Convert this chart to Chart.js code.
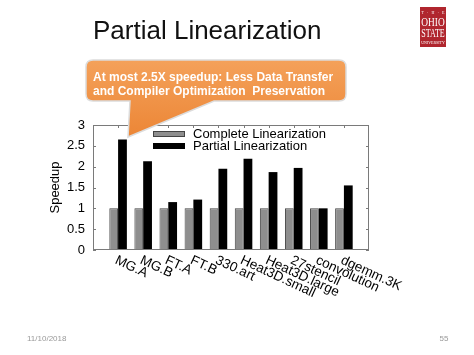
<!DOCTYPE html>
<html><head><meta charset="utf-8">
<script src="https://cdn.jsdelivr.net/npm/chart.js@4.4.1/dist/chart.umd.min.js"></script>
<style>
html,body{margin:0;padding:0;background:#fff;width:474px;height:355px;overflow:hidden}
#c{position:absolute;left:0;top:0}
#deco{position:absolute;left:0;top:0;pointer-events:none}
</style></head><body>
<canvas id="c" width="474" height="355"></canvas>
<svg id="deco" width="474" height="355" xmlns="http://www.w3.org/2000/svg">
  <defs>
    <linearGradient id="og" x1="0" y1="0" x2="0" y2="1">
      <stop offset="0" stop-color="#F4A15A"/>
      <stop offset="1" stop-color="#EC8636"/>
    </linearGradient>
  </defs>
  <text x="93" y="39" font-family="Liberation Sans, Arial, sans-serif" font-size="26" fill="#111">Partial Linearization</text>
  <rect x="420" y="7" width="26" height="40" fill="#B0262E"/>
  <text x="421.5" y="13.5" font-family="Liberation Serif, serif" font-size="4" fill="#fff" textLength="23" lengthAdjust="spacing">T · H · E</text>
  <text x="421.3" y="25.5" font-family="Liberation Serif, serif" font-size="12.5" fill="#fff" textLength="23.4" lengthAdjust="spacingAndGlyphs">OHIO</text>
  <text x="421.3" y="37" font-family="Liberation Serif, serif" font-size="12.5" fill="#fff" textLength="23.4" lengthAdjust="spacingAndGlyphs">STATE</text>
  <text x="421.3" y="43.5" font-family="Liberation Serif, serif" font-size="4.5" fill="#fff" textLength="23.4" lengthAdjust="spacingAndGlyphs">UNIVERSITY</text>
  <path d="M93 60 H339 Q346 60 346 67 V94 Q346 101 339 101 H214 L128 137 L130 101 H93 Q86 101 86 94 V67 Q86 60 93 60 Z" fill="url(#og)" stroke="#dcdcdc" stroke-width="1.5"/>
  <text x="93" y="81" font-family="Liberation Sans, Arial, sans-serif" font-weight="bold" font-size="12" fill="#fff" style="white-space:pre">At most 2.5X speedup: Less Data Transfer</text>
  <text x="93" y="94.5" font-family="Liberation Sans, Arial, sans-serif" font-weight="bold" font-size="12" fill="#fff" style="white-space:pre">and Compiler Optimization  Preservation</text>
  <text x="27" y="341" font-family="Liberation Sans, Arial, sans-serif" font-size="8" fill="#999">11/10/2018</text>
  <text x="448.5" y="341" text-anchor="end" font-family="Liberation Sans, Arial, sans-serif" font-size="8" fill="#999">55</text>
</svg>
<script>
const categories = ['MG.A','MG.B','FT.A','FT.B','330.art','Heat3D.small','Heat3D.large','27stencil','convolution','dgemm.3K'];
const completeLinearization = [1,1,1,1,1,1,1,1,1,1];
const partialLinearization = [2.65,2.13,1.15,1.21,1.95,2.19,1.87,1.97,1.0,1.55];
const yTicks = [0,0.5,1,1.5,2,2.5,3];
const seriesNames = ['Complete Linearization','Partial Linearization'];

// padded category list so the groups sit where the original plot put them
const paddedLabels = [''].concat(categories, ['']);
const pad = arr => [null].concat(arr, [null]);

const FONT = 'Liberation Sans, Arial, sans-serif';

const framePlugin = {
  id: 'frame',
  afterDatasetsDraw(chart) {
    const {ctx, chartArea: a, scales: {x, y}} = chart;
    ctx.save();
    ctx.strokeStyle = '#7a7a7a';
    ctx.lineWidth = 1;
    ctx.strokeRect(a.left + 0.5, a.top + 0.5, a.right - a.left - 1, a.bottom - a.top - 1);
    const line = (x1, y1, x2, y2) => { ctx.beginPath(); ctx.moveTo(x1, y1); ctx.lineTo(x2, y2); ctx.stroke(); };
    y.ticks.forEach(t => {
      const py = Math.round(y.getPixelForValue(t.value)) + 0.5;
      line(a.left, py, a.left + 3, py);
      line(a.right - 3, py, a.right, py);
    });
    categories.forEach((c, i) => {
      const px = Math.round(x.getPixelForValue(i + 1)) + 0.5;
      line(px, a.top, px, a.top + 3);
    });
    // rotated category labels
    ctx.fillStyle = '#000';
    ctx.font = '13.5px ' + FONT;
    ctx.textAlign = 'left';
    ctx.textBaseline = 'top';
    categories.forEach((c, i) => {
      const px = x.getPixelForValue(i + 1);
      ctx.save();
      ctx.translate(px + 0.5, a.bottom + 3.5);
      ctx.rotate(25 * Math.PI / 180);
      ctx.fillText(c, 0, 0);
      ctx.restore();
    });
    // legend inside plot
    ctx.font = '13px ' + FONT;
    const lx = a.left + 60, ly = a.top + 6;
    chart.data.datasets.forEach((ds, i) => {
      const by = ly + i * 12;
      ctx.fillStyle = ds.backgroundColor;
      ctx.fillRect(lx, by, 32, 6);
      if (ds.borderWidth) {
        ctx.strokeStyle = ds.borderColor;
        ctx.lineWidth = 1;
        ctx.strokeRect(lx + 0.5, by + 0.5, 31, 5);
      }
      ctx.fillStyle = '#000';
      ctx.textBaseline = 'middle';
      ctx.fillText(ds.label, lx + 40, by + 3);
    });
    ctx.restore();
  }
};

new Chart(document.getElementById('c'), {
  type: 'bar',
  data: {
    labels: paddedLabels,
    datasets: [
      { label: seriesNames[0], data: pad(completeLinearization), backgroundColor: '#8e8e8e', borderColor: '#444', borderWidth: 1,
        categoryPercentage: 0.7, barPercentage: 1.0 },
      { label: seriesNames[1], data: pad(partialLinearization), backgroundColor: '#000', borderWidth: 0,
        categoryPercentage: 0.7, barPercentage: 1.0 }
    ]
  },
  options: {
    responsive: false,
    animation: false,
    devicePixelRatio: 1,
    layout: { padding: { left: 0, top: 125, right: 105, bottom: 105 } },
    plugins: { legend: { display: false }, tooltip: { enabled: false } },
    scales: {
      x: {
        type: 'category', offset: false,
        grid: { display: false, drawTicks: false }, border: { display: false },
        ticks: { display: false },
        afterFit: s => { s.height = 0; }
      },
      y: {
        min: 0, max: 3,
        afterBuildTicks: s => { s.ticks = yTicks.map(v => ({ value: v })); },
        grid: { display: false, drawTicks: false }, border: { display: false },
        ticks: { font: { family: FONT, size: 13 }, color: '#000', padding: 8, callback: v => String(v) },
        title: { display: true, text: 'Speedup', font: { family: FONT, size: 13 }, color: '#000', padding: { top: 48, bottom: 0 } },
        afterFit: s => { s.width = 93; }
      }
    }
  },
  plugins: [framePlugin]
});
</script>
</body></html>
